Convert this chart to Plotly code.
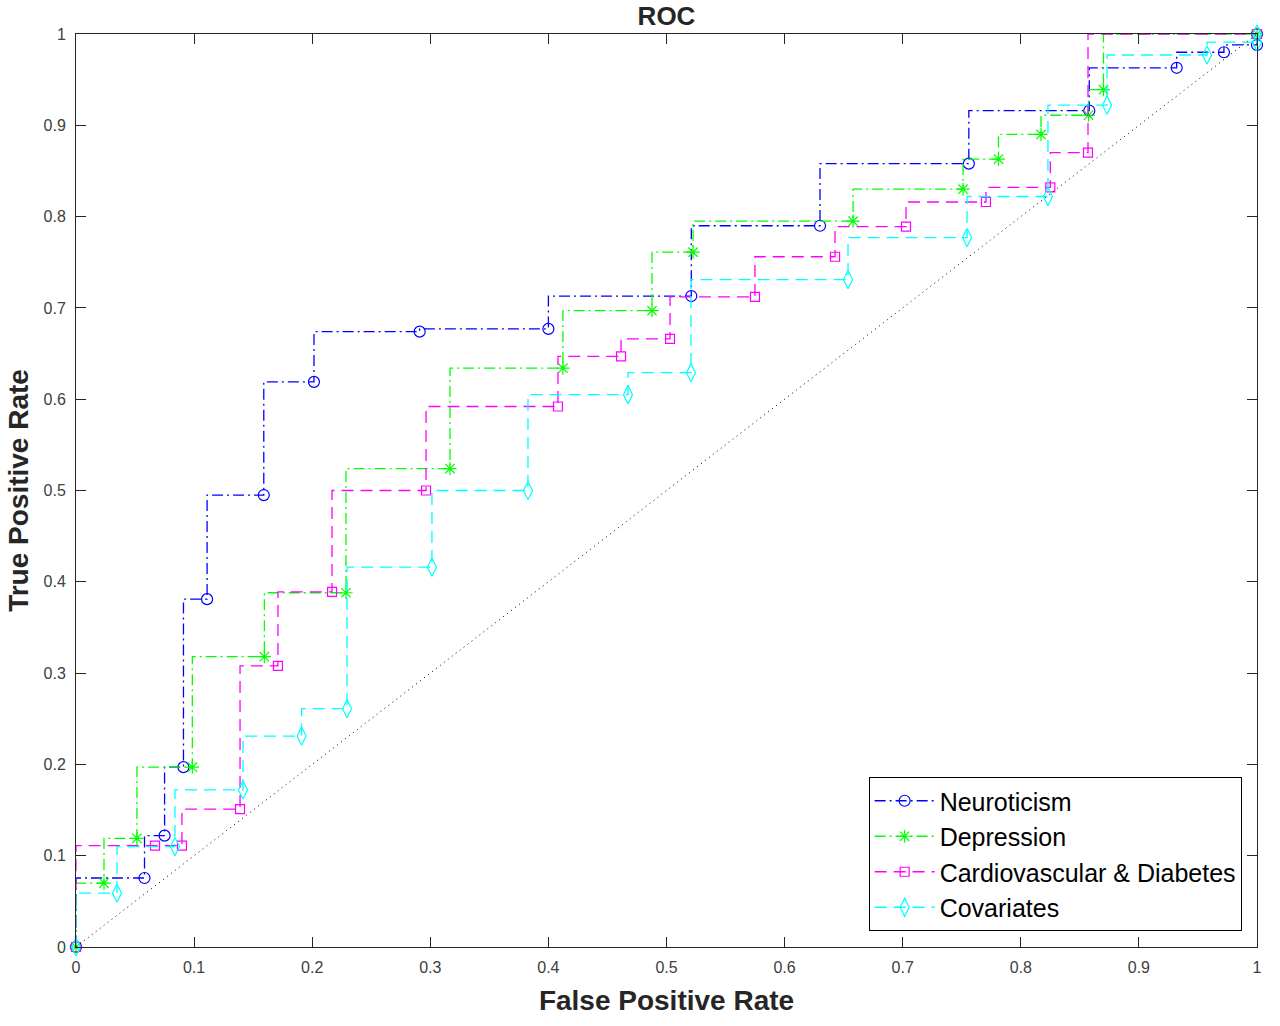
import plotly.graph_objects as go

# ---- data ----
series_names = ["Neuroticism", "Depression", "Cardiovascular & Diabetes", "Covariates"]

neuro_fpr = [0, 0.058, 0.075, 0.091, 0.111, 0.159, 0.2015, 0.291, 0.400, 0.521, 0.630, 0.756, 0.858, 0.932, 0.972, 1.0, 1.0]
neuro_tpr = [0, 0.0756, 0.122, 0.197, 0.381, 0.495, 0.619, 0.674, 0.677, 0.713, 0.790, 0.858, 0.916, 0.963, 0.980, 0.988, 1.0]

dep_fpr = [0, 0.0237, 0.0516, 0.0985, 0.1595, 0.2286, 0.3167, 0.4123, 0.4877, 0.5225, 0.6580, 0.7511, 0.7811, 0.8171, 0.8573, 0.8700, 1.0]
dep_tpr = [0, 0.070, 0.119, 0.197, 0.318, 0.388, 0.524, 0.634, 0.697, 0.761, 0.795, 0.830, 0.863, 0.890, 0.911, 0.939, 1.0]

card_fpr = [0, 0.0669, 0.0897, 0.1389, 0.1710, 0.2168, 0.2964, 0.4081, 0.4615, 0.5030, 0.5749, 0.6427, 0.7028, 0.7705, 0.8250, 0.8569, 1.0]
card_tpr = [0, 0.111, 0.111, 0.151, 0.308, 0.389, 0.500, 0.592, 0.647, 0.666, 0.712, 0.756, 0.789, 0.816, 0.832, 0.870, 1.0]

cov_fpr = [0, 0.0347, 0.0838, 0.1414, 0.1910, 0.2295, 0.3014, 0.3827, 0.4674, 0.5207, 0.6537, 0.7545, 0.8230, 0.8730, 0.9577, 1.0, 1.0]
cov_tpr = [0, 0.059, 0.110, 0.172, 0.231, 0.261, 0.416, 0.500, 0.605, 0.629, 0.731, 0.777, 0.822, 0.922, 0.977, 0.991, 1.0]

chance_x = [0, 1]
chance_y = [0, 1]

tick_vals = [0, 0.1, 0.2, 0.3, 0.4, 0.5, 0.6, 0.7, 0.8, 0.9, 1]
tick_text = ["0", "0.1", "0.2", "0.3", "0.4", "0.5", "0.6", "0.7", "0.8", "0.9", "1"]

# ---- styles ----
styles = [
    dict(color="#0000FF", dash="11px,4px,2px,4px", symbol="circle-open", size=11),
    dict(color="#00FF00", dash="11px,4px,2px,4px", symbol="asterisk-open", size=11),
    dict(color="#FF00FF", dash="12px,7px", symbol="square-open", size=9),
    dict(color="#00FFFF", dash="12px,7px", symbol="diamond-tall-open", size=13),
]
data = [(neuro_fpr, neuro_tpr), (dep_fpr, dep_tpr), (card_fpr, card_tpr), (cov_fpr, cov_tpr)]

fig = go.Figure()
for name, (xs, ys), st in zip(series_names, data, styles):
    fig.add_trace(go.Scatter(
        x=xs, y=ys, name=name, mode="lines+markers",
        line=dict(color=st["color"], width=1.3, dash=st["dash"], shape="vh"),
        marker=dict(symbol=st["symbol"], size=st["size"], color=st["color"],
                    line=dict(color=st["color"], width=1.2)),
        cliponaxis=False,
    ))

fig.add_trace(go.Scatter(
    x=chance_x, y=chance_y, mode="lines", showlegend=False,
    line=dict(color="#000000", width=1, dash="1px,4px"),
))

axis_common = dict(
    range=[0, 1], tickvals=tick_vals, ticktext=tick_text,
    ticks="inside", ticklen=10, tickwidth=1, tickcolor="#262626",
    showline=True, linecolor="#262626", linewidth=1, mirror="ticks",
    showgrid=False, zeroline=False,
    tickfont=dict(family="Arial, Liberation Sans", size=16, color="#404040"),
)

fig.update_layout(
    width=1280, height=1026,
    margin=dict(l=76, r=23, t=34, b=79),
    paper_bgcolor="white", plot_bgcolor="white",
    title=dict(text="<b>ROC</b>", x=0.5, xref="paper", xanchor="center",
               y=1 - 16 / 1026, yref="container", yanchor="middle",
               font=dict(family="Arial, Liberation Sans", size=26, color="#262626")),
    xaxis=dict(**axis_common, ticklabelstandoff=6,
               title=dict(text="<b>False Positive Rate</b>", standoff=15,
                          font=dict(family="Arial, Liberation Sans", size=28, color="#262626"))),
    yaxis=dict(**axis_common, ticklabelstandoff=6,
               title=dict(text="<b>True Positive Rate</b>", standoff=6,
                          font=dict(family="Arial, Liberation Sans", size=28, color="#262626"))),
    legend=dict(x=0.987, y=0.0175, xanchor="right", yanchor="bottom",
                bgcolor="white", bordercolor="#000000", borderwidth=1,
                font=dict(family="Arial, Liberation Sans", size=25, color="#000000"),
                tracegroupgap=0, itemwidth=60),
    showlegend=True,
)

fig.write_html("out.html", config={"displayModeBar": False},
               post_script="document.body.style.margin='0';")
